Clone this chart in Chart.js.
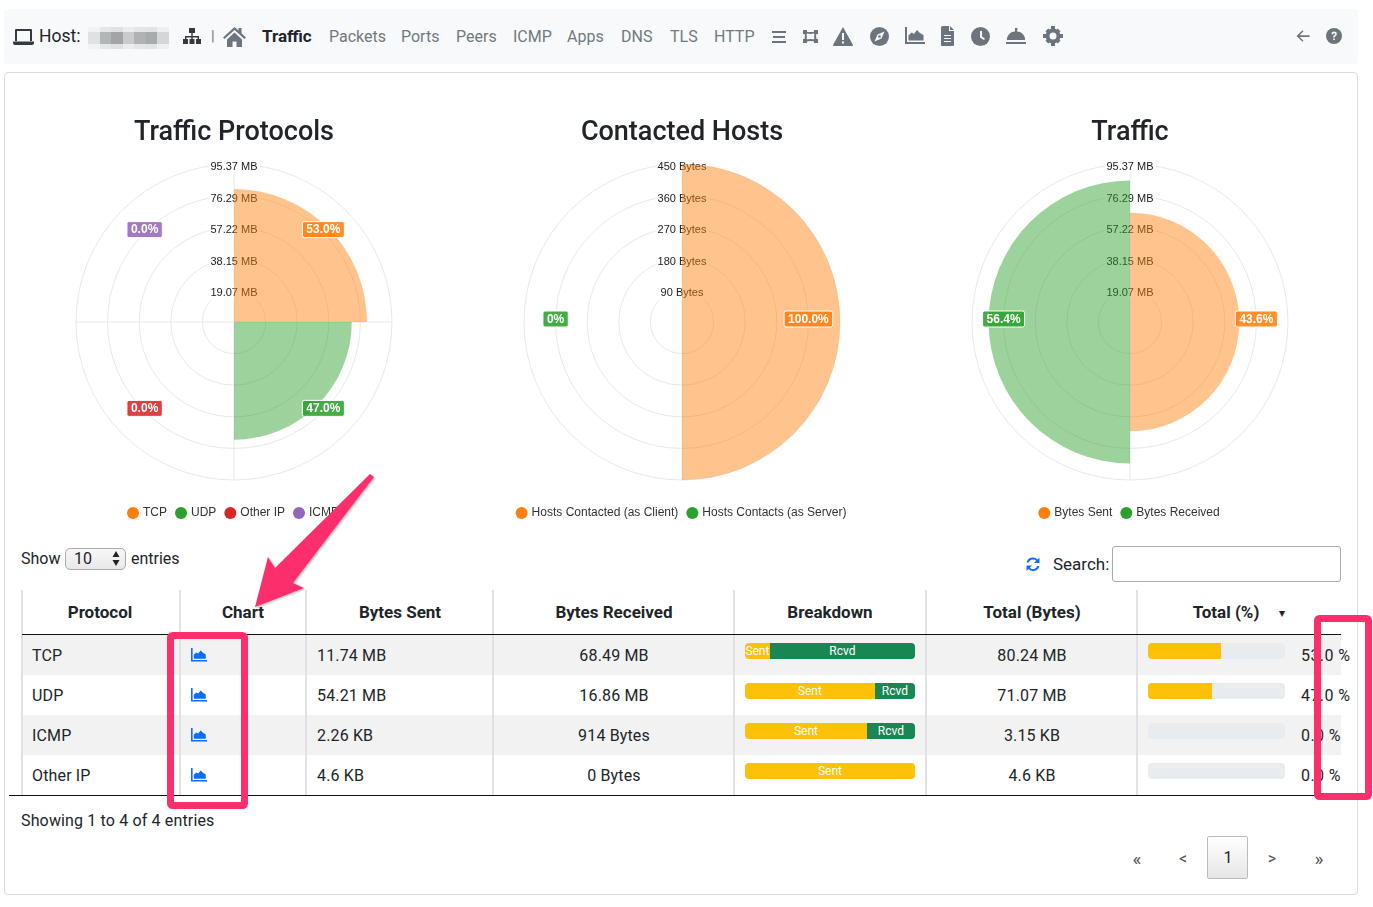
<!DOCTYPE html>
<html>
<head>
<meta charset="utf-8">
<title>Traffic</title>
<script src="https://cdn.jsdelivr.net/npm/chart.js@4.4.0/dist/chart.umd.min.js"></script>
<style>
  html, body { margin: 0; padding: 0; background: #fff; }
  body { position: relative; width: 1373px; height: 907px; overflow: hidden; font: 16px Roboto, sans-serif; color: #212529; }
  .abs { position: absolute; white-space: nowrap; }
  .mid { transform: translateY(-50%); }
  .ctr { transform: translate(-50%, -50%); }
  #navbar { left: 4px; top: 9px; width: 1354px; height: 55px; background: #f8f9fa; border-radius: 4px; }
  #card { left: 4px; top: 72px; width: 1352px; height: 821px; border: 1px solid #dcdcdc; border-radius: 4px; }
  .nav-link { top: 36px; color: #707980; }
  .chart-box { position: absolute; top: 100px; width: 448px; height: 429px; }
  .row-bg { left: 22px; width: 1319px; height: 40px; }
  .vline { top: 590px; width: 2px; height: 205px; background: #dee2e6; }
  .th { top: 612px; font-weight: 700; font-size: 17px; }
  .cell { letter-spacing: .15px; }
  .bar { height: 16px; font-size: 12px; line-height: 17px; color: #fff; text-align: center; overflow: hidden; }
  svg.ico { position: absolute; overflow: visible; }
</style>
</head>
<body>

<div class="abs" id="navbar"></div>
<div class="abs" id="card"></div>
<div id="page"></div>

<div class="chart-box" style="left:10px"><canvas id="chartProtocols"></canvas></div>
<div class="chart-box" style="left:458px"><canvas id="chartHosts"></canvas></div>
<div class="chart-box" style="left:906px"><canvas id="chartTraffic"></canvas></div>

<div id="table"></div>

<!-- annotation marks painted over the screenshot -->
<svg class="abs" style="left:0;top:0" width="1373" height="907">
  <defs><filter id="soft"><feDropShadow dx="1" dy="1" stdDeviation="1.2" flood-color="#000" flood-opacity="0.3"/></filter></defs>
  <polygon filter="url(#soft)" fill="#fd2e6c" points="255,607 268,557 275,568 370,474 374,477 293,583 304,588"/>
  <rect x="170.500" y="635.500" width="74" height="170" rx="2" fill="none" stroke="#fd2e6c" stroke-width="7"/>
  <rect x="1317.500" y="618.500" width="51" height="178" rx="2" fill="none" stroke="#fd2e6c" stroke-width="7"/>
</svg>

<script>
/* ============================================================================
   Data
   ============================================================================ */

const protocolLabels = ["TCP", "UDP", "Other IP", "ICMP"];
const protocolBytes = [84140000, 74520000, 4710, 3226];
const protocolShare = ["53.0%", "47.0%", "0.0%", "0.0%"];
const protocolColors = ["255,127,14", "44,160,44", "214,39,40", "148,103,189"];

const hostLabels = ["Hosts Contacted (as Client)", "Hosts Contacts (as Server)"];
const hostCounts = [450, 0];
const hostShare = ["100.0%", "0%"];
const hostColors = ["255,127,14", "44,160,44"];

const trafficLabels = ["Bytes Sent", "Bytes Received"];
const trafficBytes = [69153000, 89495000];
const trafficShare = ["43.6%", "56.4%"];
const trafficColors = ["255,127,14", "44,160,44"];

const rowProtocols = ["TCP", "UDP", "ICMP", "Other IP"];
const rowSent = ["11.74 MB", "54.21 MB", "2.26 KB", "4.6 KB"];
const rowReceived = ["68.49 MB", "16.86 MB", "914 Bytes", "0 Bytes"];
const rowSentPct = [14.6, 76.3, 71.7, 100];
const rowTotal = ["80.24 MB", "71.07 MB", "3.15 KB", "4.6 KB"];
const rowTotalPct = [53.0, 47.0, 0.0, 0.0];

const navLinks = [["Traffic", 262], ["Packets", 329], ["Ports", 401], ["Peers", 456], ["ICMP", 513],
                  ["Apps", 567], ["DNS", 621], ["TLS", 670], ["HTTP", 714]];
const tableHeads = [["Protocol", 100], ["Chart", 243], ["Bytes Sent", 400], ["Bytes Received", 614],
                    ["Breakdown", 830], ["Total (Bytes)", 1032], ["Total (%)", 1226]];
const columnEdges = [21, 179, 305, 492, 733, 925, 1136];

/* ============================================================================
   Helper chart
   ============================================================================ */

// label persen di 0.8 radius, di tengah tiap irisan
const shareLabels = {
    id: "shareLabels",
    afterDatasetsDraw(chart, args, opts) {
        const ctx = chart.ctx;
        const radius = chart.scales.r.drawingArea * 0.8;
        chart.getDatasetMeta(0).data.forEach((arc, i) => {
            const angle = (arc.startAngle + arc.endAngle) / 2;
            const x = arc.x + Math.cos(angle) * radius;
            const y = arc.y + Math.sin(angle) * radius - 3;
            ctx.save();
            ctx.font = "bold 12px 'Liberation Sans'";
            const w = ctx.measureText(opts.texts[i]).width + 8;
            ctx.beginPath();
            ctx.roundRect(x - w / 2, y - 8, w, 16, 2);
            ctx.fillStyle = "rgba(" + opts.colors[i] + ",0.88)";
            ctx.fill();
            ctx.strokeStyle = "#fff";
            ctx.stroke();
            ctx.fillStyle = "#fff";
            ctx.textAlign = "center";
            ctx.textBaseline = "middle";
            ctx.fillText(opts.texts[i], x, y + 0.5);
            ctx.restore();
        });
    }
};

// tick label sedikit di bawah lingkaran grid
const tickShift = {
    id: "tickShift",
    afterLayout(chart) {
        const r = chart.scales.r;
        if (r.shifted) return;
        const draw = r.drawLabels;
        r.drawLabels = function () {
            this.ctx.save();
            this.ctx.translate(0, 3);
            draw.call(this);
            this.ctx.restore();
        };
        r.shifted = true;
    }
};

function formatMB(value) {
    return (value / 1048576).toFixed(2) + " MB";
}

function formatBytes(value) {
    return value + " Bytes";
}

function createPolar(id, title, labels, values, share, colors, step, tickFormat) {
    return new Chart(document.getElementById(id), {
        type: "polarArea",
        plugins: [shareLabels, tickShift],
        data: {
            labels: labels,
            datasets: [{
                data: values,
                backgroundColor: colors.map(c => "rgba(" + c + ",0.47)"),
                borderWidth: 0
            }]
        },
        options: {
            responsive: true,
            maintainAspectRatio: false,
            animation: false,
            scales: {
                r: {
                    min: 0,
                    max: step * 5,
                    ticks: {
                        stepSize: step,
                        callback: tickFormat,
                        color: "#222",
                        font: { size: 11, family: "'Liberation Sans'" }
                    },
                    grid: { color: "#e8e8e8" },
                    angleLines: { display: true, color: "#e8e8e8" }
                }
            },
            plugins: {
                title: {
                    display: true,
                    text: title,
                    color: "#212529",
                    font: { size: 27, weight: "500", family: "Roboto" },
                    padding: { top: 17, bottom: 7 }
                },
                legend: {
                    position: "bottom",
                    title: { display: true, text: "", font: { size: 7 }, padding: 0 },
                    labels: {
                        usePointStyle: true,
                        boxWidth: 8,
                        boxHeight: 8.5,
                        padding: 10,
                        color: "#333",
                        font: { size: 12, family: "'Liberation Sans'" },
                        generateLabels(chart) {
                            return Chart.PolarAreaController.overrides.plugins.legend.labels.generateLabels(chart)
                                .map((item, i) => ({ ...item, fillStyle: "rgb(" + colors[i] + ")", strokeStyle: "rgb(" + colors[i] + ")", lineWidth: 0 }));
                        }
                    }
                },
                tooltip: { enabled: false },
                shareLabels: { texts: share, colors: colors }
            }
        }
    });
}

createPolar("chartProtocols", "Traffic Protocols", protocolLabels, protocolBytes, protocolShare, protocolColors, 20000000, formatMB);
createPolar("chartHosts", "Contacted Hosts", hostLabels, hostCounts, hostShare, hostColors, 90, formatBytes);
createPolar("chartTraffic", "Traffic", trafficLabels, trafficBytes, trafficShare, trafficColors, 20000000, formatMB);

/* ============================================================================
   Navbar, ikon, dan tabel (DOM biasa)
   ============================================================================ */

const GREY = "#6c757d", DARK = "#343a40", BLUE = "#0d6efd";

const icons = {
    laptop: c => `<path d="M3 1h15a1 1 0 0 1 1 1v11h-2V3H4v10H2V2a1 1 0 0 1 1-1z" fill="${c}"/><path d="M0 13.500h21v1.500a2 2 0 0 1-2 2H2a2 2 0 0 1-2-2z" fill="${c}"/>`,
    sitemap: c => `<path d="M7 1h6v5H7zM1 12h5v5H1zM7.500 12h5v5h-5zM14 12h5v5h-5zM9.300 6h1.400v3H17v3h-1.400v-1.600h-4.900V12H9.300v-1.600H4.400V12H3V9h6.300z" fill="${c}"/>`,
    home: c => `<path d="M11.500 0l4 3.600V1h3v5.300L23 10.500 21.500 12 11.500 3 1.500 12 0 10.500z M4 12.500l7.500-7 7.500 7V20h-5.500v-5.500h-4V20H4z" fill="${c}"/>`,
    bars: c => `<path d="M0 1h14v2H0zM1 6h12v2H1zM0 11h14v2H0z" fill="${c}"/>`,
    route: c => `<path d="M2 2Q7.500 4 13 2Q11 6.500 13 11Q7.500 9 2 11Q4 6.500 2 2z" fill="none" stroke="${c}" stroke-width="1.800"/><path d="M0 0h4v4H0zM11 0h4v4h-4zM0 9h4v4H0zM11 9h4v4h-4z" fill="${c}"/>`,
    warning: c => `<path d="M10 0l10 18a1 1 0 0 1-1 1H1a1 1 0 0 1-1-1z" fill="${c}"/><path d="M9 6h2v7H9zM9 14.500h2v2H9z" fill="#f8f9fa"/>`,
    compass: c => `<circle cx="9.500" cy="9.500" r="9.500" fill="${c}"/><path d="M14.500 4.500l-3 7-7 3 3-7z" fill="#f8f9fa"/><circle cx="9.500" cy="9.500" r="1.300" fill="${c}"/>`,
    area: c => `<path d="M0 0h2v15h18v2H0z" fill="${c}"/><path d="M3.500 13.500V8.500l3-3 2.500 1.500 3-4 3 3 3.500 2v5.500z" fill="${c}"/>`,
    file: c => `<path d="M0 1.500A1.500 1.500 0 0 1 1.500 0H8v5h5v14a1 1 0 0 1-1 1H1a1 1 0 0 1-1-1zM9 0l4 4H9z" fill="${c}"/><path d="M3 9h7v1H3zM3 12h7v1H3zM3 15h7v1H3z" fill="#f8f9fa"/>`,
    clock: c => `<circle cx="9.500" cy="9.500" r="9.500" fill="${c}"/><path d="M9 4h2v5.500l3 2.200-1 1.400L9 10.500z" fill="#f8f9fa"/>`,
    bell: c => `<path d="M9 0h2.500v2H11v1.600a8 8 0 0 1 8 8.400H1a8 8 0 0 1 8-8.400V2H9zM0 14h20v2H0z" fill="${c}"/>`,
    cog: c => `<circle cx="10" cy="10" r="5.500" fill="none" stroke="${c}" stroke-width="4"/><path d="M8 0h4v4H8zM8 16h4v4H8zM0 8h4v4H0zM16 8h4v4h-4zM2.500 5.300L5.300 2.500l2.400 2.400-2.800 2.800zM12.300 15.100l2.800-2.800 2.400 2.400-2.800 2.800zM14.700 2.500l2.800 2.800-2.400 2.400-2.800-2.800zM4.900 12.300l2.800 2.800-2.400 2.400-2.800-2.800z" fill="${c}"/>`,
    back: c => `<path d="M13.500 6.200H3.600l3.900-3.900-1-1L.5 7l6 5.800 1-1-3.900-3.900h9.900z" fill="${c}"/>`,
    help: c => `<circle cx="8" cy="8" r="8" fill="${c}"/><path d="M5.500 6c0-3.200 5.300-3.200 5.300 0 0 2-2 1.800-2 3.500H7.200c0-2.500 2-2.300 2-3.500 0-1.200-2-1.200-2.200.4zM7.200 10.500h1.600v1.600H7.200z" fill="#f8f9fa"/>`,
    refresh: c => `<path d="M8 1.500a6.500 6.500 0 0 1 4.600 1.900L14.500 1.500V7H9l2.200-2.200A4.500 4.500 0 0 0 3.700 6.500H1.600A6.500 6.500 0 0 1 8 1.500zM1.500 15V9.500H7l-2.200 2.200a4.500 4.500 0 0 0 7.500-1.700h2.100a6.500 6.500 0 0 1-11 3.100z" fill="${c}"/>`
};

const navIcons = [
    ["laptop", 13, 28, DARK], ["sitemap", 182, 27, DARK], ["home", 223, 27, GREY], ["bars", 772, 30, GREY],
    ["route", 803, 30, GREY], ["warning", 833, 27, GREY], ["compass", 870, 27, GREY], ["area", 905, 27, GREY],
    ["file", 941, 26, GREY], ["clock", 971, 27, GREY], ["bell", 1006, 28, GREY], ["cog", 1043, 26, GREY],
    ["back", 1296, 29, GREY], ["help", 1326, 28, GREY]
];

function icon(name, left, top, color, scale) {
    return `<svg class="ico" style="left:${left}px;top:${top}px" width="24" height="24"><g transform="scale(${scale || 1})">${icons[name](color)}</g></svg>`;
}

function text(str, left, top, cls, style) {
    return `<div class="abs ${cls || "mid"}" style="left:${left}px;top:${top}px;${style || ""}">${str}</div>`;
}

let page = "";
page += navIcons.map(n => icon(n[0], n[1], n[2], n[3])).join("");
page += text("Host:", 39, 36, "mid", "font-size:17.5px");
page += text("|", 211, 36, "mid", "color:#6c757d;font-size:15px");
navLinks.forEach((n, i) => {
    page += text(n[0], n[1], 36, "nav-link mid", i === 0 ? "color:#212529;font-weight:700;font-size:17px" : "");
});

// host yang diburamkan
const hostBlur = ["#dfe1e2", "#b3b6b8", "#a2a5a7", "#c9cbcc", "#b0b3b5", "#a8abad", "#d5d7d8"];
hostBlur.forEach((c, i) => {
    page += `<div class="abs" style="left:${88 + i * 11.500}px;top:32px;width:11.500px;height:12px;background:${c}"></div>`;
    page += `<div class="abs" style="left:${88 + i * 11.500}px;top:27px;width:11.500px;height:22px;background:${c};opacity:.28"></div>`;
});

page += text("Show", 21, 558);
page += `<div class="abs" style="left:65px;top:548px;width:59px;height:20px;border:1px solid #aaa;border-radius:5px;background:linear-gradient(#f8f8f8,#e8e8e8)"></div>`;
page += text("10", 74, 558);
page += `<svg class="ico" style="left:112px;top:551px" width="8" height="15"><path d="M4 0l3.500 6h-7zM4 15L.5 9h7z" fill="#222"/></svg>`;
page += text("entries", 131, 558);
page += icon("refresh", 1025, 556, BLUE);
page += text("Search:", 1053, 564, "mid", "font-size:17px");
page += `<div class="abs" style="left:1112px;top:546px;width:227px;height:34px;border:1px solid #aaa;border-radius:3px;background:#fff"></div>`;
page += text("Showing 1 to 4 of 4 entries", 21, 820, "mid cell");
document.getElementById("page").innerHTML = page;

let table = "";
rowProtocols.forEach((name, i) => {
    const top = 635 + i * 40, cy = top + 20, barTop = top + 8;
    if (i % 2 === 0) table += `<div class="abs row-bg" style="top:${top}px;background:#f2f2f2"></div>`;
    table += text(name, 32, cy, "mid cell");
    table += icon("area", 191, cy - 7, BLUE, 0.8);
    table += text(rowSent[i], 317, cy, "mid cell");
    table += text(rowReceived[i], 614, cy, "ctr cell");
    table += text(rowTotal[i], 1032, cy, "ctr cell");

    const sentW = 170 * rowSentPct[i] / 100;
    table += `<div class="abs" style="left:745px;top:${barTop}px;width:170px;height:16px;border-radius:4px;overflow:hidden;display:flex">` +
             `<div class="bar" style="width:${sentW}px;background:#ffc107">Sent</div>` +
             (rowSentPct[i] < 100 ? `<div class="bar" style="flex:1;background:#198754">Rcvd</div>` : "") + `</div>`;

    const totalW = 137 * rowTotalPct[i] / 100;
    table += `<div class="abs" style="left:1148px;top:${barTop}px;width:137px;height:16px;border-radius:4px;overflow:hidden;background:#e9ecef">` +
             `<div class="bar" style="width:${totalW}px;background:#ffc107"></div></div>`;
    table += text(rowTotalPct[i].toFixed(1) + " %", 1301, cy, "mid", "letter-spacing:.4px");
});
columnEdges.forEach(x => { table += `<div class="abs vline" style="left:${x}px"></div>`; });
tableHeads.forEach(h => { table += text(h[0], h[1], 612, "ctr th"); });
table += text("\u25BE", 1282, 613, "ctr", "font-size:12px");
table += `<div class="abs" style="left:22px;top:634px;width:1319px;height:1px;background:#111"></div>`;
table += `<div class="abs" style="left:9px;top:795px;width:1332px;height:1px;background:#111"></div>`;

// pagination
const pageItems = [["\u00AB", 1137, 19], ["<", 1183, 16], [">", 1272, 16], ["\u00BB", 1319, 19]];
pageItems.forEach(p => { table += text(p[0], p[1], 858, "ctr", `color:#555;font-size:${p[2]}px`); });
table += `<div class="abs" style="left:1207px;top:836px;width:39px;height:41px;border:1px solid #bbb;border-radius:2px;background:linear-gradient(#fff,#e6e6e6)"></div>`;
table += text("1", 1228, 857, "ctr");
document.getElementById("table").innerHTML = table;
</script>
</body>
</html>
